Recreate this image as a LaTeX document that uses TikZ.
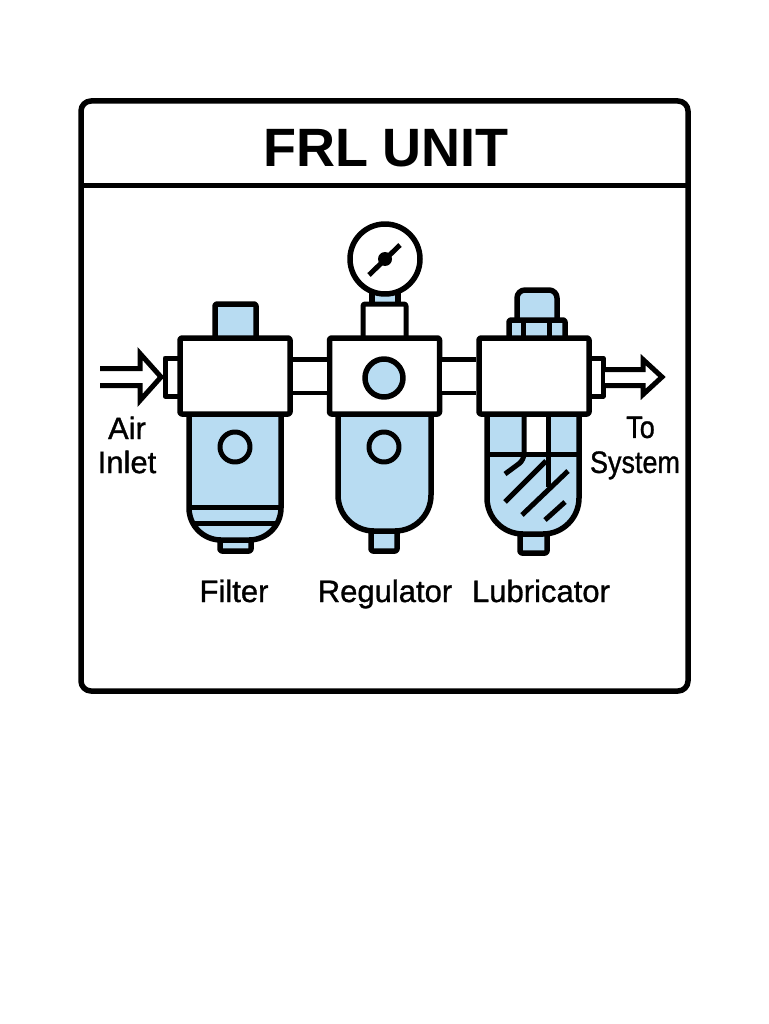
\documentclass[tikz,border=0pt]{standalone}
\usepackage{xcolor}
\usepackage{fontspec}
\setmainfont{Liberation Sans}
\newfontfamily\labelfont{Liberation Sans}[FakeBold=1]
\newfontfamily\narrowfont{Liberation Sans}[FakeBold=1, FakeStretch=0.87]
\definecolor{bowlblue}{HTML}{B8DCF2}

\begin{document}
\begin{tikzpicture}[x=1pt, y=-1pt, line join=round]
    % Define a style for the nodes
    \tikzstyle{frame} = [draw, line width=5.5pt, rounded corners=10pt]
    \tikzstyle{head} = [rectangle, draw, fill=white, line width=5.5pt, rounded corners=2pt, minimum width=110pt, minimum height=76pt, inner sep=0pt]
    \tikzstyle{part} = [draw, fill=bowlblue, line width=5.5pt, rounded corners=2pt]
    \tikzstyle{port} = [draw, fill=white, line width=5pt]
    \tikzstyle{pipe} = [line width=4.5pt, draw=black, double=white, double distance=29pt]
    \tikzstyle{flow} = [draw, fill=white, line width=5pt, line join=miter]
    \tikzstyle{dial} = [draw, fill=bowlblue, line width=5pt]
    \tikzstyle{stroke} = [line width=5pt]
    \tikzstyle{label} = [inner sep=0pt, align=center, font=\labelfont\fontsize{31}{34}\selectfont]

    \useasboundingbox (0,0) rectangle (768,1024);
    \fill[white] (0,0) rectangle (768,1024);

    % Frame and title
    \draw[frame] (81,101) rectangle (688,691);
    \draw[line width=5pt] (81,186) -- (688,186);
    \node (title) at (386,148) [inner sep=0pt, font=\fontsize{54}{54}\selectfont\bfseries] {FRL UNIT};

    % Bowls and drains
    \draw[part] (220,535) -- (220,551) -- (251,551) -- (251,535);
    \draw[part] (371,525) -- (371,551) -- (397,551) -- (397,525);
    \draw[part] (520,528) -- (520,553) -- (547,553) -- (547,528);
    \draw[part, rounded corners=32pt] (189,410) -- (189,540) -- (281,540) -- (281,410);
    \draw[part, rounded corners=36pt] (338,410) -- (338,531) -- (431,531) -- (431,410);
    \draw[part, rounded corners=36pt] (487,410) -- (487,534) -- (579,534) -- (579,410);

    % Top parts
    \draw[part] (215,340) -- (215,304) -- (256,304) -- (256,340);
    \draw[part, rounded corners=8pt] (517,325) -- (517,290) -- (557,290) -- (557,325);
    \draw[part] (509,340) -- (509,320) -- (565,320) -- (565,340);
    \draw[stroke] (523,320) -- (523,338);
    \draw[stroke] (549,320) -- (549,338);
    \draw[part, rounded corners=0pt] (372,285) rectangle (398,306);
    \draw[port, rounded corners=2pt] (363,340) -- (363,304) -- (406,304) -- (406,340);

    % Ports
    \draw[port] (165,358) rectangle (182,396);
    \draw[port] (587,358) rectangle (603,396);

    % Nodes
    \node (filterhead) at (235,376) [head] {};
    \node (regulatorhead) at (384.5,376) [head] {};
    \node (lubricatorhead) at (534,376) [head] {};
    \node (gauge) at (385,259) [circle, draw, fill=white, line width=5.5pt, minimum size=70pt, inner sep=0pt] {};
    \node (knob) at (384,378) [circle, dial, line width=5.5pt, minimum size=38pt, inner sep=0pt] {};
    \node (filterdial) at (235,447) [circle, dial, minimum size=30pt, inner sep=0pt] {};
    \node (regulatordial) at (384,447) [circle, dial, minimum size=30pt, inner sep=0pt] {};

    % Edges
    \draw[pipe] (filterhead) -- (regulatorhead);
    \draw[pipe] (regulatorhead) -- (lubricatorhead);

    % Gauge needle
    \draw[line width=5pt] (369,275) -- (400,245);
    \fill (gauge.center) circle (7);

    % Filter bands
    \draw[stroke] (189,507) -- (281,507);
    \draw[stroke] (195,523) -- (276,523);

    % Lubricator tube and oil
    \fill[white] (524,417) rectangle (548,454);
    \draw[stroke] (487,454) -- (579,454);
    \draw[stroke, rounded corners=6pt] (524,417) -- (524,460) -- (505,474);
    \draw[stroke] (548,417) -- (548,487);
    \draw[stroke] (505,502) -- (546,461);
    \draw[stroke] (522,515) -- (568,471);
    \draw[stroke] (545,520) -- (565,502);

    % Flow arrows
    \coordinate (inlet) at (100,368.5);
    \coordinate (outlet) at (605,369.5);
    \draw[flow, fill=none] (inlet) -- ++(40,0) -- ++(0,-15) -- ++(21,23.5) -- ++(-21,23.5) -- ++(0,-15) -- ++(-40,0);
    \draw[flow] (outlet) -- ++(38,0) -- ++(0,-10) -- ++(19,17.5) -- ++(-19,17.5) -- ++(0,-9) -- ++(-38,0);

    % Labels
    \node (airlabel) at (127,445) [label] {Air\\Inlet};
    \node (systemlabel) at (635,448) [label, font=\narrowfont\fontsize{31}{35}\selectfont] {\hspace*{11pt}To\\System};
    \node (filterlabel) at (234,602) [label, anchor=base] {Filter};
    \node (regulatorlabel) at (385,602) [label, anchor=base] {Regulator};
    \node (lubricatorlabel) at (541,602) [label, anchor=base] {Lubricator};
\end{tikzpicture}
\end{document}
